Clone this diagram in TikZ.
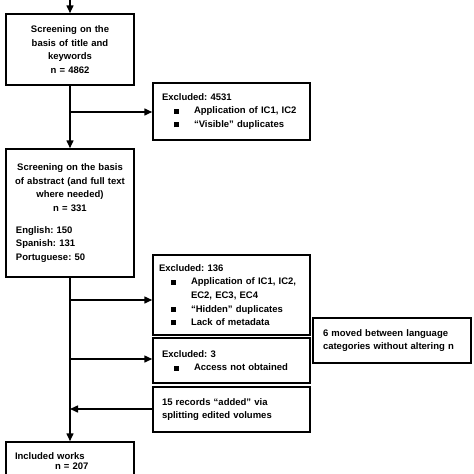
\documentclass[tikz,border=0pt]{standalone}
\usepackage{fontspec}
\setmainfont{Liberation Sans}
\usetikzlibrary{arrows.meta}
\newcommand{\bul}{\hspace*{12pt}\makebox[20pt][l]{\rule[0.2pt]{5pt}{5pt}}}
\begin{document}
\frenchspacing
\begin{tikzpicture}[x=1pt,y=-1pt,
  box/.style={draw, line width=1.5pt, rectangle, font=\fontsize{9.5}{13.6}\selectfont\bfseries\frenchspacing, inner ysep=0pt},
  conn/.style={line width=1.5pt, -{Triangle[length=8pt,width=7pt]}}]
\clip (0,0) rectangle (474,474);
\useasboundingbox (0,0) rectangle (474,474);
\fill[white] (0,0) rectangle (474,474);
\node[box, minimum width=128pt, minimum height=71pt, text width=118pt, align=center] (s1) at (70,49.5)
  {Screening on the\\basis of title and\\keywords\\n = 4862};
\node[box, minimum width=128pt, minimum height=128pt, text width=116pt, align=center] (s2) at (70,213)
  {Screening on the basis\\of abstract (and full text\\where needed)\\n = 331\\[8pt]\makebox[116pt][l]{\hspace*{4pt}English: 150}\\\makebox[116pt][l]{\hspace*{4pt}Spanish: 131}\\\makebox[116pt][l]{\hspace*{4pt}Portuguese: 50}};
\node[box, minimum width=157pt, minimum height=57pt, inner xsep=9pt, text width=139pt, align=left] (e1) at (231.5,111.5)
  {Excluded: 4531\\\bul Application of IC1, IC2\\\bul “Visible” duplicates};
\node[box, minimum width=157pt, minimum height=80pt, inner xsep=6pt, text width=145pt, align=left] (e2) at (231.5,295)
  {Excluded: 136\\\bul Application of IC1, IC2,\\\hspace*{32pt}EC2, EC3, EC4\\\bul “Hidden” duplicates\\\bul Lack of metadata};
\node[box, minimum width=157pt, minimum height=45pt, inner xsep=9pt, text width=139pt, align=left] (e3) at (231.5,360.5)
  {Excluded: 3\\\bul Access not obtained};
\node[box, minimum width=158pt, minimum height=45pt, inner xsep=10pt, text width=138pt, align=left] (mv) at (392,340.5)
  {6 moved between language\\categories without altering n};
\node[box, minimum width=157pt, minimum height=45pt, inner xsep=9pt, text width=139pt, align=left] (r15) at (231.5,409.5)
  {15 records “added” via\\splitting edited volumes};
\node[box, minimum width=128pt, minimum height=38pt, inner xsep=9pt, text width=110pt, align=left] (inc) at (70,461)
  {Included works\\[-3pt]\hspace*{40pt}n = 207};
\coordinate (top) at (70,-2);
\draw[conn] (top) -- (s1.north);
\draw[conn] (s1.south) -- (s2.north);
\coordinate (j1) at (70,112);
\draw[conn] (j1) -- (j1 -| e1.west);
\draw[conn] (s2.south) -- (inc.north);
\coordinate (j2) at (70,300);
\draw[conn] (j2) -- (j2 -| e2.west);
\coordinate (j3) at (70,359);
\draw[conn] (j3) -- (j3 -| e3.west);
\coordinate (j4) at (70,409);
\draw[conn] (j4 -| r15.west) -- (j4);
\end{tikzpicture}
\end{document}
